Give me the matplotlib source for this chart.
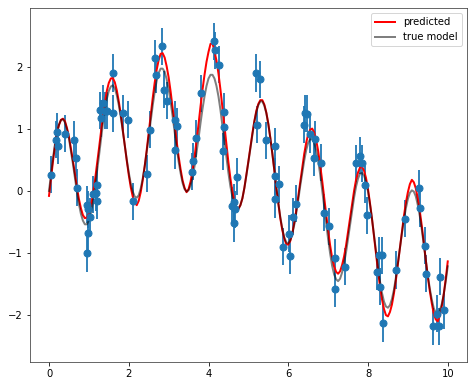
import matplotlib
matplotlib.use("Agg")
import matplotlib.pyplot as plt

x_obs = [0.06, 0.18, 0.21, 0.23, 0.39, 0.63, 0.67, 0.71, 0.95, 0.98,
         1.02, 0.97, 0.95, 1.10, 1.17, 1.21, 1.21, 1.29, 1.31, 1.35,
         1.40, 1.46, 1.61, 1.61, 1.85, 1.99, 2.10, 2.46, 2.53, 2.65,
         2.68, 2.84, 2.89, 2.96, 3.15, 3.22, 3.17, 3.58, 3.62, 3.68,
         3.82, 4.14, 4.17, 4.26, 4.39, 4.40, 4.36, 4.58, 4.63, 4.64,
         4.67, 4.71, 5.20, 5.29, 5.22, 5.44, 5.68, 5.68, 5.77, 5.66,
         5.87, 6.05, 6.02, 6.12, 6.19, 6.39, 6.42, 6.48, 6.55, 6.68,
         6.64, 6.82, 6.90, 7.02, 7.17, 7.17, 7.42, 7.71, 7.81, 7.84,
         7.93, 7.98, 8.22, 8.27, 8.34, 8.30, 8.38, 8.71, 8.93, 9.27,
         9.30, 9.43, 9.45, 9.64, 9.78, 9.73, 9.80, 9.90]
y_obs = [0.26, 0.83, 0.96, 0.73, 0.93, 0.83, 0.54, 0.05, -0.22, -0.30,
         -0.42, -0.68, -1.01, -0.05, -0.03, 0.10, -0.16, 1.31, 1.18, 1.42,
         1.30, 1.30, 1.91, 1.26, 1.26, 1.15, -0.17, 0.28, 0.99, 2.15,
         1.88, 2.34, 1.64, 1.46, 1.15, 1.05, 0.66, 0.31, 0.48, 0.85,
         1.58, 2.42, 2.28, 2.04, 1.28, 1.04, 0.64, -0.24, -0.18, -0.52,
         -0.30, 0.23, 1.91, 1.81, 1.07, 0.82, 0.72, 0.24, 0.11, -0.13,
         -0.90, -1.05, -0.69, -0.42, -0.21, 1.07, 1.26, 1.25, 0.92, 0.84,
         0.54, 0.46, -0.35, -0.57, -1.08, -1.58, -1.23, 0.45, 0.57, 0.45,
         0.10, -0.39, -1.31, -1.04, -1.04, -1.55, -2.14, -1.28, -0.45, 0.04,
         -0.28, -0.89, -1.34, -2.19, -2.19, -1.99, -1.39, -1.93]
y_err = 0.3

# curves, read every 0.05 from 0 to 10
x_fit = [i / 20 for i in range(201)]
y_true = [0.00, 0.27, 0.53, 0.76, 0.94, 1.07, 1.15, 1.16, 1.11, 1.00,
          0.85, 0.65, 0.44, 0.21, -0.01, -0.21, -0.37, -0.48, -0.54, -0.54,
          -0.48, -0.36, -0.18, 0.04, 0.29, 0.55, 0.82, 1.08, 1.30, 1.49,
          1.62, 1.69, 1.71, 1.66, 1.55, 1.39, 1.20, 0.97, 0.74, 0.51,
          0.30, 0.12, -0.01, -0.09, -0.11, -0.07, 0.04, 0.20, 0.40, 0.63,
          0.88, 1.14, 1.38, 1.60, 1.78, 1.91, 1.98, 1.98, 1.93, 1.81,
          1.65, 1.44, 1.21, 0.96, 0.71, 0.48, 0.29, 0.13, 0.03, -0.01,
          0.01, 0.09, 0.22, 0.40, 0.62, 0.85, 1.10, 1.33, 1.53, 1.70,
          1.82, 1.88, 1.88, 1.82, 1.70, 1.53, 1.31, 1.06, 0.80, 0.54,
          0.29, 0.07, -0.10, -0.22, -0.29, -0.29, -0.23, -0.12, 0.05, 0.25,
          0.47, 0.70, 0.92, 1.12, 1.28, 1.39, 1.45, 1.45, 1.38, 1.26,
          1.08, 0.86, 0.61, 0.34, 0.06, -0.19, -0.42, -0.61, -0.75, -0.83,
          -0.85, -0.80, -0.70, -0.55, -0.36, -0.15, 0.08, 0.29, 0.49, 0.66,
          0.78, 0.84, 0.84, 0.78, 0.66, 0.49, 0.27, 0.02, -0.25, -0.52,
          -0.78, -1.01, -1.21, -1.35, -1.43, -1.46, -1.42, -1.32, -1.17, -0.99,
          -0.77, -0.54, -0.32, -0.11, 0.07, 0.20, 0.28, 0.29, 0.25, 0.15,
          -0.01, -0.22, -0.45, -0.71, -0.98, -1.23, -1.46, -1.65, -1.79, -1.87,
          -1.89, -1.85, -1.75, -1.60, -1.40, -1.17, -0.93, -0.69, -0.47, -0.28,
          -0.13, -0.03, 0.01, -0.01, -0.09, -0.23, -0.41, -0.63, -0.88, -1.13,
          -1.37, -1.58, -1.76, -1.90, -1.97, -1.99, -1.94, -1.83, -1.67, -1.46,
          -1.22]
y_pred = [-0.08, 0.20, 0.48, 0.73, 0.94, 1.07, 1.15, 1.17, 1.13, 1.02,
          0.88, 0.69, 0.49, 0.27, 0.06, -0.13, -0.28, -0.39, -0.44, -0.43,
          -0.37, -0.25, -0.06, 0.16, 0.41, 0.67, 0.94, 1.20, 1.43, 1.62,
          1.75, 1.82, 1.83, 1.76, 1.63, 1.45, 1.24, 0.99, 0.74, 0.49,
          0.26, 0.06, -0.09, -0.19, -0.23, -0.16, -0.02, 0.17, 0.40, 0.66,
          0.94, 1.23, 1.50, 1.75, 1.96, 2.12, 2.22, 2.23, 2.16, 2.02,
          1.84, 1.61, 1.35, 1.08, 0.81, 0.56, 0.35, 0.17, 0.05, -0.02,
          0.03, 0.15, 0.33, 0.55, 0.81, 1.08, 1.37, 1.64, 1.88, 2.09,
          2.25, 2.38, 2.39, 2.26, 2.11, 1.90, 1.64, 1.35, 1.05, 0.75,
          0.46, 0.20, -0.01, -0.17, -0.28, -0.29, -0.23, -0.12, 0.05, 0.26,
          0.48, 0.71, 0.93, 1.13, 1.30, 1.41, 1.47, 1.47, 1.40, 1.27,
          1.09, 0.86, 0.61, 0.34, 0.05, -0.20, -0.44, -0.63, -0.77, -0.86,
          -0.87, -0.81, -0.69, -0.52, -0.32, -0.09, 0.15, 0.38, 0.60, 0.78,
          0.92, 0.99, 1.01, 0.95, 0.82, 0.65, 0.42, 0.17, -0.10, -0.38,
          -0.64, -0.88, -1.08, -1.22, -1.31, -1.34, -1.30, -1.20, -1.06, -0.88,
          -0.66, -0.43, -0.21, 0.00, 0.18, 0.30, 0.38, 0.39, 0.33, 0.21,
          0.03, -0.20, -0.45, -0.73, -1.02, -1.29, -1.54, -1.75, -1.91, -2.01,
          -2.03, -1.96, -1.84, -1.66, -1.44, -1.18, -0.92, -0.65, -0.41, -0.19,
          -0.02, 0.11, 0.18, 0.14, 0.04, -0.13, -0.33, -0.57, -0.85, -1.12,
          -1.39, -1.62, -1.82, -1.99, -2.08, -2.11, -2.02, -1.87, -1.67, -1.42,
          -1.14]

fig = plt.figure(figsize=(474 / 72, 386 / 72), dpi=72)
ax = fig.add_axes([0.063, 0.062, 0.922, 0.917])

ax.errorbar(x_obs, y_obs, y_err, fmt="o", color="C0", ms=7, elinewidth=1.8)
ax.plot(x_fit, y_pred, "-r", lw=2, label="predicted")
ax.plot(x_fit, y_true, "-k", lw=2, alpha=0.5, label="true model")

ax.set_xlim(-0.48, 10.48)
ax.set_ylim(-2.77, 2.96)
ax.set_xticks([0, 2, 4, 6, 8, 10])
ax.set_yticks([-2, -1, 0, 1, 2])
ax.tick_params(labelsize=10)
for s in ax.spines.values():
    s.set_color("#444444")
ax.legend(loc="upper right", fontsize=10)

fig.savefig("out.png", dpi=72)
